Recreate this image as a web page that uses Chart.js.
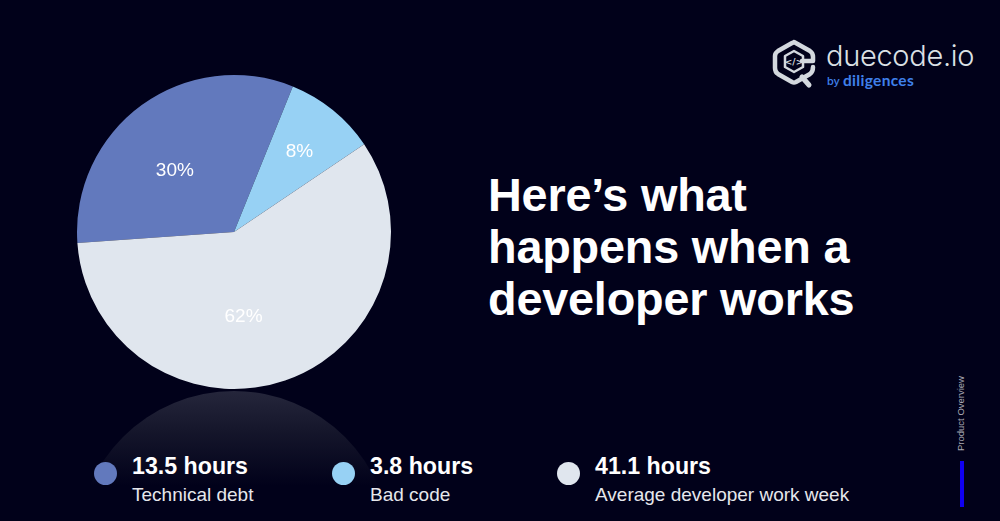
<!DOCTYPE html>
<html>
<head>
<meta charset="utf-8">
<script src="https://cdn.jsdelivr.net/npm/chart.js@4"></script>
<style>
  html, body { margin: 0; padding: 0; }
  body {
    width: 1000px; height: 521px; position: relative; overflow: hidden;
    background: #01011a; color: #fff;
    font-family: "Liberation Sans", Arial, sans-serif;
  }
  #pie-holder { position: absolute; left: 67px; top: 65px; width: 334px; height: 334px; }
  #reflection {
    position: absolute; left: 77px; top: 391px; width: 314px; height: 130px; overflow: hidden;
  }
  #reflection div {
    position: absolute; left: 0; top: 0; width: 314px; height: 314px; border-radius: 50%;
    background: linear-gradient(180deg, #25263b 0, #15162b 40px, #01011a 95px);
  }
  #title {
    position: absolute; left: 488px; top: 169px; font-size: 46.8px; font-weight: 700;
    line-height: 52px; letter-spacing: -0.2px; white-space: nowrap;
  }
  .legend-dot { position: absolute; top: 462px; width: 23px; height: 23px; border-radius: 50%; }
  .legend-value { position: absolute; top: 453px; font-size: 23.2px; font-weight: 700; white-space: nowrap; }
  .legend-name { position: absolute; top: 484px; font-size: 19px; color: #e6e7ec; white-space: nowrap; }
  #logo-text {
    position: absolute; left: 826px; top: 38px; font-family: Inter, sans-serif; font-weight: 300;
    font-size: 29px; color: #dbe0e5; letter-spacing: -0.3px; white-space: nowrap;
  }
  #logo-by {
    position: absolute; left: 827px; top: 74px; font-family: Inter, sans-serif; font-size: 11px;
    font-weight: 500; color: #3f80ea;
  }
  #logo-dil {
    position: absolute; left: 843px; top: 71px; font-family: Lato, sans-serif; font-size: 15.5px;
    font-weight: 700; color: #3f80ea; letter-spacing: 0.3px;
  }
  #logo-mark { position: absolute; left: 772px; top: 39px; }
  #side-text {
    position: absolute; left: 955px; top: 451px; font-size: 9.5px; color: #a9a9b4; white-space: nowrap;
    transform-origin: 0 0; transform: rotate(-90deg);
  }
  #side-bar { position: absolute; left: 960px; top: 461px; width: 4px; height: 46px; background: #1000f0; }
</style>
</head>
<body>
<div id="reflection"><div></div></div>
<div id="pie-holder"><canvas id="pie"></canvas></div>
<div id="title">Here’s what<br>happens when a<br>developer works</div>

<svg id="logo-mark" width="48" height="50" viewBox="0 0 48 50" fill="none">
  <path d="M22 3 L38 12 Q41 14 41 18 L41 22 M41 22 L30 22 M41 28 Q41 33 38 35 L24 43 Q22 44 20 43 L6 35 Q3 33 3 29 L3 17 Q3 14 6 12 L20 4 Q22 3 24 4" stroke="#d3d8de" stroke-width="4.5" stroke-linecap="round"/>
  <path d="M22 12 L31 17 L31 28 L22 33 L13 28 L13 17 Z" stroke="#d3d8de" stroke-width="2.5" stroke-linejoin="round"/>
  <path d="M30 38 L37 46" stroke="#d3d8de" stroke-width="5" stroke-linecap="round"/>
  <text x="22" y="26" font-size="9" font-family="DejaVu Sans" font-weight="700" fill="#d3d8de" text-anchor="middle">&lt;/&gt;</text>
</svg>
<div id="logo-text">duecode.io</div>
<div id="logo-by">by</div>
<div id="logo-dil">diligences</div>

<div id="legend"></div>
<div id="side-text">Product Overview</div>
<div id="side-bar"></div>

<script>
// slice shares as drawn in the picture (degrees of each arc)
const categories = ['Technical debt', 'Bad code', 'Average developer work week'];
const arcDegrees = [116, 34, 210];
const sliceLabels = ['30%', '8%', '62%'];
const hourLabels = ['13.5 hours', '3.8 hours', '41.1 hours'];
const sliceColors = ['#6279bd', '#97d1f4', '#e0e6ee'];
const legendX = [94, 332, 557];

// the percent labels don't sit at the arc centres in the original, nudge them
const labelNudgeX = [-13, 16, -16];
const labelNudgeY = [2, -19, 11];

// white percent text on each arc
const sliceText = {
  id: 'sliceText',
  afterDatasetsDraw(chart) {
    const { ctx } = chart;
    ctx.save();
    ctx.font = '19px "Liberation Sans", Arial, sans-serif';
    ctx.fillStyle = '#fff';
    ctx.textAlign = 'center';
    ctx.textBaseline = 'middle';
    chart.getDatasetMeta(0).data.forEach((arc, i) => {
      const p = arc.tooltipPosition();
      ctx.fillText(sliceLabels[i], p.x + labelNudgeX[i], p.y + labelNudgeY[i]);
    });
    ctx.restore();
  }
};

function render_legend() {
  const holder = document.getElementById('legend');
  categories.forEach((name, i) => {
    const x = legendX[i];
    holder.insertAdjacentHTML('beforeend',
      `<div class="legend-dot" style="left:${x}px;background:${sliceColors[i]}"></div>` +
      `<div class="legend-value" style="left:${x + 38}px">${hourLabels[i]}</div>` +
      `<div class="legend-name" style="left:${x + 38}px">${name}</div>`);
  });
}

new Chart(document.getElementById('pie'), {
  type: 'pie',
  data: {
    labels: categories,
    datasets: [{ data: arcDegrees, backgroundColor: sliceColors, borderWidth: 0 }]
  },
  options: {
    responsive: true,
    maintainAspectRatio: false,
    animation: false,
    rotation: 266,
    layout: { padding: 10 },
    plugins: { legend: { display: false }, tooltip: { enabled: false } }
  },
  plugins: [sliceText]
});

render_legend();
</script>
</body>
</html>
